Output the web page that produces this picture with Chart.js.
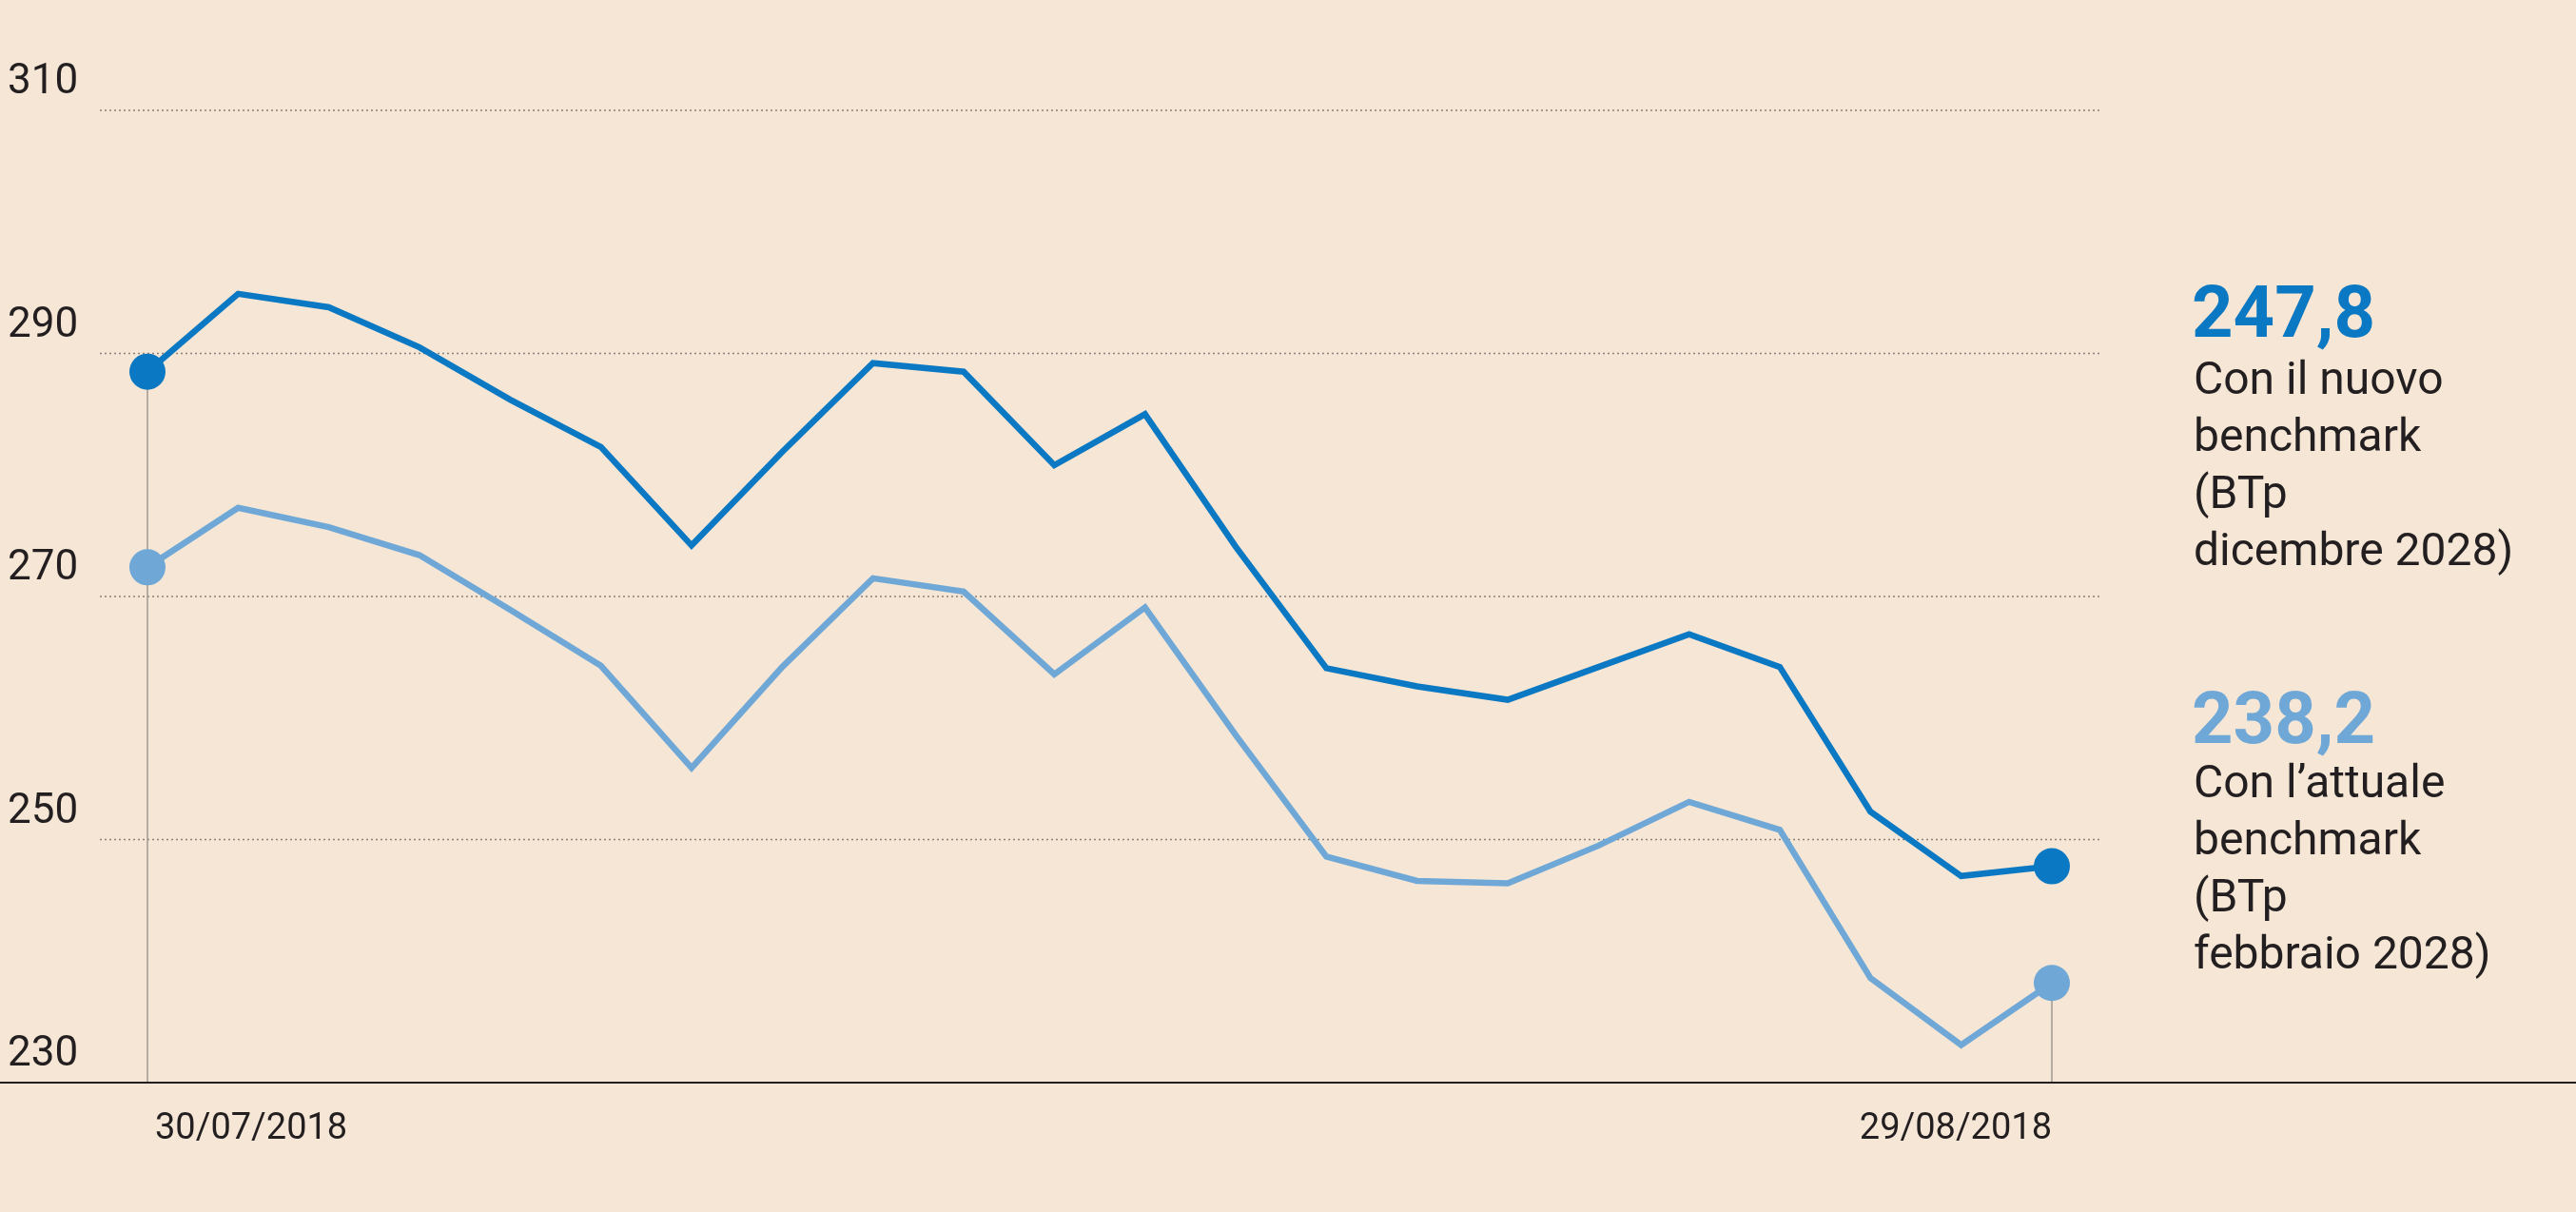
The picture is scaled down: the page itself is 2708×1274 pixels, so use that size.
<!DOCTYPE html>
<html><head><meta charset="utf-8">
<script src="https://cdn.jsdelivr.net/npm/chart.js@4/dist/chart.umd.min.js"></script>
<style>html,body{margin:0;padding:0;background:#f5e6d6;}#wrap{width:2708px;height:1274px;}</style>
</head><body><div id="wrap"><canvas id="c"></canvas></div>
<script>
const dates = ["30/07/2018","31/07/2018","01/08/2018","02/08/2018","03/08/2018","06/08/2018","07/08/2018","08/08/2018","09/08/2018","10/08/2018","13/08/2018","14/08/2018","16/08/2018","17/08/2018","20/08/2018","21/08/2018","22/08/2018","23/08/2018","24/08/2018","27/08/2018","28/08/2018","29/08/2018"];
const nuovo = [288.5,294.9,293.8,290.5,286.2,282.3,274.2,281.9,289.2,288.5,280.8,285.0,274.1,264.1,262.6,261.5,264.2,266.9,264.2,252.3,247.0,247.8];
const attuale = [272.4,277.3,275.7,273.4,268.9,264.3,255.9,264.2,271.5,270.4,263.6,269.1,258.6,248.6,246.6,246.4,249.5,253.1,250.8,238.6,233.1,238.2];
const yTicks = [230,250,270,290,310];
const DARK='#0a78c2', LIGHT='#6fa8d6', TXT='#231f20', FONT='Roboto, "Liberation Sans", sans-serif';
const last = dates.length-1;
const radii = dates.map((d,i)=> (i===0||i===last)?19:0);

const deco = {
  id:'deco',
  beforeDatasetsDraw(ch){
    const c=ch.ctx, y=ch.scales.y, x=ch.scales.x, a=ch.chartArea;
    c.save();
    // gridlines
    c.strokeStyle='#8a817a'; c.lineWidth=1.5; c.setLineDash([2,3]);
    yTicks.forEach(v=>{ if(v===230) return; const py=y.getPixelForValue(v);
      c.beginPath(); c.moveTo(x.getPixelForValue(0)-50,py); c.lineTo(2207,py); c.stroke(); });
    c.setLineDash([]);
    // vertical lines
    c.strokeStyle='#a09890'; c.lineWidth=1.5;
    [[0,nuovo[0]],[last,attuale[last]]].forEach(([i,v])=>{
      const px=x.getPixelForValue(i);
      c.beginPath(); c.moveTo(px,y.getPixelForValue(v)); c.lineTo(px,y.getPixelForValue(230)); c.stroke(); });
    // axis
    c.strokeStyle=TXT; c.lineWidth=2;
    const by=y.getPixelForValue(230);
    c.beginPath(); c.moveTo(0,by); c.lineTo(2708,by); c.stroke();
    // y labels
    c.fillStyle=TXT; c.font='44px '+FONT; c.textAlign='left'; c.textBaseline='alphabetic';
    yTicks.forEach(v=>{ c.fillText(String(v),8,y.getPixelForValue(v)-18); });
    // x labels
    c.font='38px '+FONT;
    c.textAlign='left'; c.fillText(dates[0], x.getPixelForValue(0)+8, 1197);
    c.textAlign='right'; c.fillText(dates[last], x.getPixelForValue(last), 1197);
    // annotations
    c.textAlign='left';
    c.fillStyle=DARK; c.font='bold 76px '+FONT; c.fillText('247,8',2304,354);
    c.fillStyle=TXT; c.font='48px '+FONT;
    ['Con il nuovo','benchmark','(BTp','dicembre 2028)'].forEach((t,i)=>c.fillText(t,2306,414+i*60));
    c.fillStyle=LIGHT; c.font='bold 76px '+FONT; c.fillText('238,2',2304,781);
    c.fillStyle=TXT; c.font='48px '+FONT;
    ["Con l\u2019attuale",'benchmark','(BTp','febbraio 2028)'].forEach((t,i)=>c.fillText(t,2306,838+i*60));
    c.restore();
  }
};

new Chart(document.getElementById('c'),{
  type:'line',
  data:{labels:dates,datasets:[
    {data:attuale,borderColor:LIGHT,backgroundColor:LIGHT,borderWidth:6.5,pointRadius:radii,pointBorderWidth:0,tension:0},
    {data:nuovo,borderColor:DARK,backgroundColor:DARK,borderWidth:6.5,pointRadius:radii,pointBorderWidth:0,tension:0}
  ]},
  options:{responsive:true,maintainAspectRatio:false,animation:false,
    layout:{padding:{left:155,right:551,top:116,bottom:136}},
    plugins:{legend:{display:false},tooltip:{enabled:false}},
    scales:{
      x:{type:'category',offset:false,display:false},
      y:{min:230,max:310,display:false}
    }},
  plugins:[deco]
});
</script></body></html>
